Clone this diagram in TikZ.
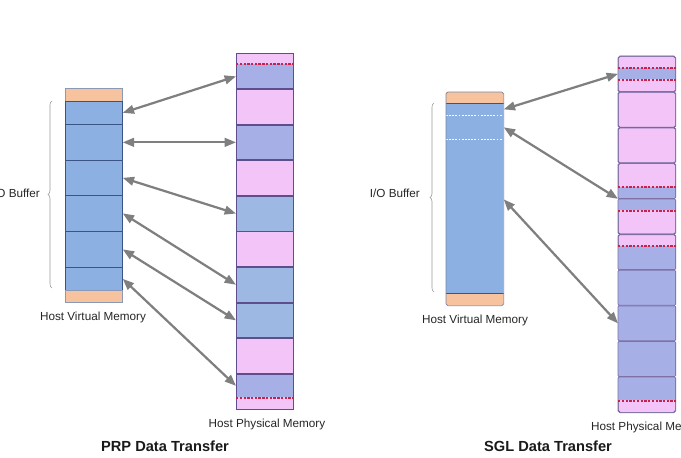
\documentclass[tikz,border=0pt]{standalone}
\usepackage{fontspec}
\setmainfont{Liberation Sans}
\usepackage{xcolor}
\usetikzlibrary{arrows.meta, positioning, calc, decorations.pathreplacing}
\definecolor{vorange}{HTML}{F6C39E}
\definecolor{vblue}{HTML}{8DB0E2}
\definecolor{vline}{HTML}{3A5585}
\definecolor{ppink}{HTML}{F2C4F8}
\definecolor{pblue}{HTML}{A7AFE7}
\definecolor{lblue}{HTML}{9DB8E2}
\definecolor{pline}{HTML}{5E4E8C}
\definecolor{panahgray}{HTML}{7F7F7F}
\definecolor{garismerah}{HTML}{C8224A}
\def\px{0.03cm}

\begin{document}
\begin{tikzpicture}[
    x=0.03cm, y=-0.03cm,
    font=\fontsize{10}{12}\selectfont,
    blok/.style={inner sep=0, anchor=north west, minimum width=57*\px, line width=0.6pt},
    vblk/.style={blok, draw=vline, fill=vblue},
    oblk/.style={blok, draw=vline!60, fill=vorange},
    pblk/.style={blok, draw=pline, fill=ppink},
    isian/.style={blok, draw=none},
    panah/.style={{Triangle[length=3.4mm, width=2.6mm]}-{Triangle[length=3.4mm, width=2.6mm]},
                  line width=1.9pt, panahgray},
    putus/.style={garismerah, line width=1.8pt, dash pattern=on 2pt off 1.2pt},
    kurung/.style={decorate, decoration={brace, amplitude=1.2mm}, gray!80, line width=0.5pt},
    label/.style={text=black!85},
    judul/.style={font=\fontsize{12.5}{15}\selectfont\bfseries, text=black!90}
  ]
    \useasboundingbox (0,0) rectangle (681,458);

    % PRP: memori virtual
    \node[oblk, minimum height=13*\px] (vo1) at (65,88) {};
    \foreach \i/\t/\h in {1/101/23, 2/124/36, 3/160/35, 4/195/36, 5/231/36, 6/267/23} {
      \node[vblk, minimum height=\h*\px] (va\i) at (65,\t) {};
    }
    \node[oblk, minimum height=12*\px] (vo2) at (65,290) {};

    % PRP: memori fisik
    \foreach \i/\c in {1/ppink, 2/ppink, 3/pblue, 4/ppink, 5/lblue,
                       6/ppink, 7/lblue, 8/lblue, 9/ppink, 10/ppink} {
      \node[pblk, fill=\c, minimum height=35.6*\px] (pa\i) at (236,{53+35.6*(\i-1)}) {};
    }
    \node[isian, fill=pblue, minimum height=24*\px] (pa1s) at (236,64) {};
    \node[isian, fill=pblue, minimum height=23*\px] (pa10s) at (236,374) {};
    \foreach \i in {1,...,10} {
      \draw[pline, line width=0.6pt] (pa\i.north west) rectangle (pa\i.south east);
    }
    \draw[putus] (pa1s.north west) -- (pa1s.north east);
    \draw[putus] (pa10s.south west) -- (pa10s.south east);

    \draw[panah] (va1.east) -- (pa1s.west);
    \draw[panah] (va2.east) -- (pa3.west);
    \draw[panah] (va3.east) -- (pa5.west);
    \draw[panah] (va4.east) -- (pa7.west);
    \draw[panah] (va5.east) -- (pa8.west);
    \draw[panah] (va6.east) -- (pa10s.west);

    \draw[kurung] (52,288) -- (52,101);
    \node[label, anchor=east] (ioa) at (44,193) {I/O Buffer};
    \node[label] (hva) at (93,317) {Host Virtual Memory};
    \node[label] (hpa) at (267,424) {Host Physical Memory};
    \node[judul] (prp) at (165,446) {PRP Data Transfer};

    % SGL: memori virtual
    \node[isian, fill=vorange, minimum height=11*\px] (vo3) at (446,92) {};
    \node[isian, fill=vblue, minimum height=12*\px] (vb1) at (446,103) {};
    \node[isian, fill=vblue, minimum height=24*\px] (vb2) at (446,115) {};
    \node[isian, fill=vblue, minimum height=154*\px] (vb3) at (446,139) {};
    \node[isian, fill=vorange, minimum height=12*\px] (vo4) at (446,293) {};
    \draw[white, line width=0.8pt, dash pattern=on 1.5pt off 1.2pt]
      (vb2.north west) -- (vb2.north east) (vb3.north west) -- (vb3.north east);
    \draw[vline, line width=0.6pt] (vb1.north west) -- (vb1.north east)
      (vb3.south west) -- (vb3.south east);
    \draw[vline!70, line width=0.6pt, rounded corners=1.5pt] (vo3.north west) rectangle (vo4.south east);

    % SGL: memori fisik
    \foreach \i in {1,...,10} {
      \node[pblk, rounded corners=1.5pt, minimum height=35.6*\px] (pb\i) at (618,{56+35.6*(\i-1)}) {};
    }
    \node[isian, fill=pblue, minimum height=11*\px] (pbs1) at (618,68) {};
    \node[isian, fill=pblue, minimum height=23*\px] (pbs2) at (618,187) {};
    \node[isian, fill=pblue, minimum height=154*\px] (pbs3) at (618,246) {};
    \foreach \i in {1,...,10} {
      \draw[pline!80, line width=0.6pt, rounded corners=1.5pt] (pb\i.north west) rectangle (pb\i.south east);
    }
    \foreach \s in {pbs1, pbs2, pbs3} {
      \draw[putus] (\s.north west) -- (\s.north east);
      \draw[putus] (\s.south west) -- (\s.south east);
    }

    \draw[panah] (vb1.east) -- (pbs1.west);
    \draw[panah] (vb2.east) -- (pbs2.west);
    \draw[panah] ([yshift=0.51cm]vb3.east) -- (pbs3.west);

    \draw[kurung] (434,292) -- (434,103);
    \node[label, anchor=east] (iob) at (424,193) {I/O Buffer};
    \node[label] (hvb) at (475,320) {Host Virtual Memory};
    \node[label, anchor=west] (hpb) at (587,427) {Host Physical Memory};
    \node[judul] (sgl) at (548,446) {SGL Data Transfer};
  \end{tikzpicture}
\end{document}
